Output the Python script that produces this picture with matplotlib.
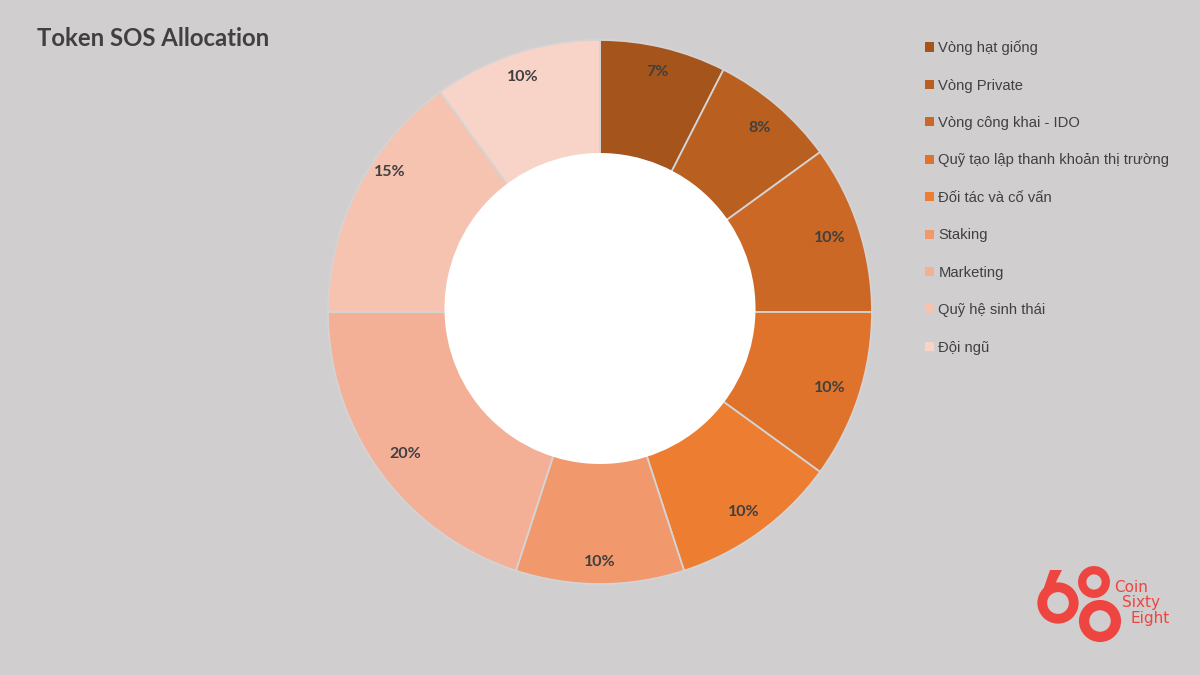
import matplotlib
matplotlib.use("Agg")
import matplotlib.pyplot as plt
from matplotlib.patches import Circle, Patch, Polygon

names = ["Vòng hạt giống", "Vòng Private", "Vòng công khai - IDO",
         "Quỹ tạo lập thanh khoản thị trường", "Đối tác và cố vấn",
         "Staking", "Marketing", "Quỹ hệ sinh thái", "Đội ngũ"]
# 7.5 hien thi thanh 7% va 8% tren hinh
values = [7.5, 7.5, 10, 10, 10, 10, 20, 15, 10]
pct_labels = ["7%", "8%", "10%", "10%", "10%", "10%", "20%", "15%", "10%"]
colors = ["#A5541C", "#B95F20", "#CC6825", "#DF732B", "#ED7D31",
          "#F1986D", "#F4B096", "#F6C3B1", "#F8D4C8"]

BG = "#D0CECE"
TEXT = "#404040"
RED = "#EE4540"

fig = plt.figure(figsize=(12, 6.75), dpi=100, facecolor=BG)
# toan bo hinh, toa do theo pixel
ax = fig.add_axes([0, 0, 1, 1])

label_iter = iter(pct_labels)
wedges, _, autotexts = ax.pie(values, colors=colors, startangle=90, counterclock=False,
                              center=(600, 363), radius=272, frame=True,
                              autopct=lambda p: next(label_iter), pctdistance=0.895,
                              wedgeprops=dict(width=125, edgecolor="#D5D3D3", linewidth=1.3),
                              textprops=dict(color=TEXT, family="Lato", fontweight="bold", fontsize=11.5))
ax.set_xlim(0, 1200)
ax.set_ylim(0, 675)
ax.set_aspect("auto")
ax.axis("off")
# lo giua hoi lech len tren so voi vanh
ax.add_patch(Circle((600, 366.5), 155.5, fc="white", ec="none", zorder=3))

# chinh vi tri nhan cho giong hinh goc
nudges = [(1, 3), (1, -1), (-2, -1), (-2, -1), (1, -3), (0, -7), (2, 1), (7, 29), (-2, 3)]
for t, (dx, dy) in zip(autotexts, nudges):
    x, y = t.get_position()
    t.set_position((x + dx, y + dy))
    t.set_zorder(4)

ax.text(37, 637, "Token SOS Allocation", family="Lato", fontweight="bold",
        fontsize=17.2, color=TEXT, va="center", ha="left")

handles = [Patch(facecolor=c, edgecolor="none") for c in colors]
leg = fig.legend(handles, names, loc="upper left", bbox_to_anchor=(921 / 1200, 1 - 36 / 675),
                 frameon=False, prop=dict(family="Liberation Sans", size=10.6),
                 labelcolor=TEXT, handlelength=0.58, handleheight=0.58, handletextpad=0.3,
                 labelspacing=1.59, borderpad=0.3, borderaxespad=0)

# logo
ax.add_patch(Circle((1058, 72), 15.75, fc="none", ec=RED, lw=7))
ax.add_patch(Polygon([(1050, 105), (1062, 105), (1051, 83), (1038, 70)], closed=True, fc=RED, ec="none"))
ax.add_patch(Circle((1094, 93), 11.8, fc="none", ec=RED, lw=6))
ax.add_patch(Circle((1100, 54), 15.9, fc="none", ec=RED, lw=7.4))
for x, y, s in [(1114, 83, "Coin"), (1122, 67.5, "Sixty"), (1130, 52, "Eight")]:
    ax.text(x, y, s, family="DejaVu Sans", fontsize=11, color=RED, va="baseline", ha="left")

fig.savefig("out.png", dpi=100, facecolor=BG)
